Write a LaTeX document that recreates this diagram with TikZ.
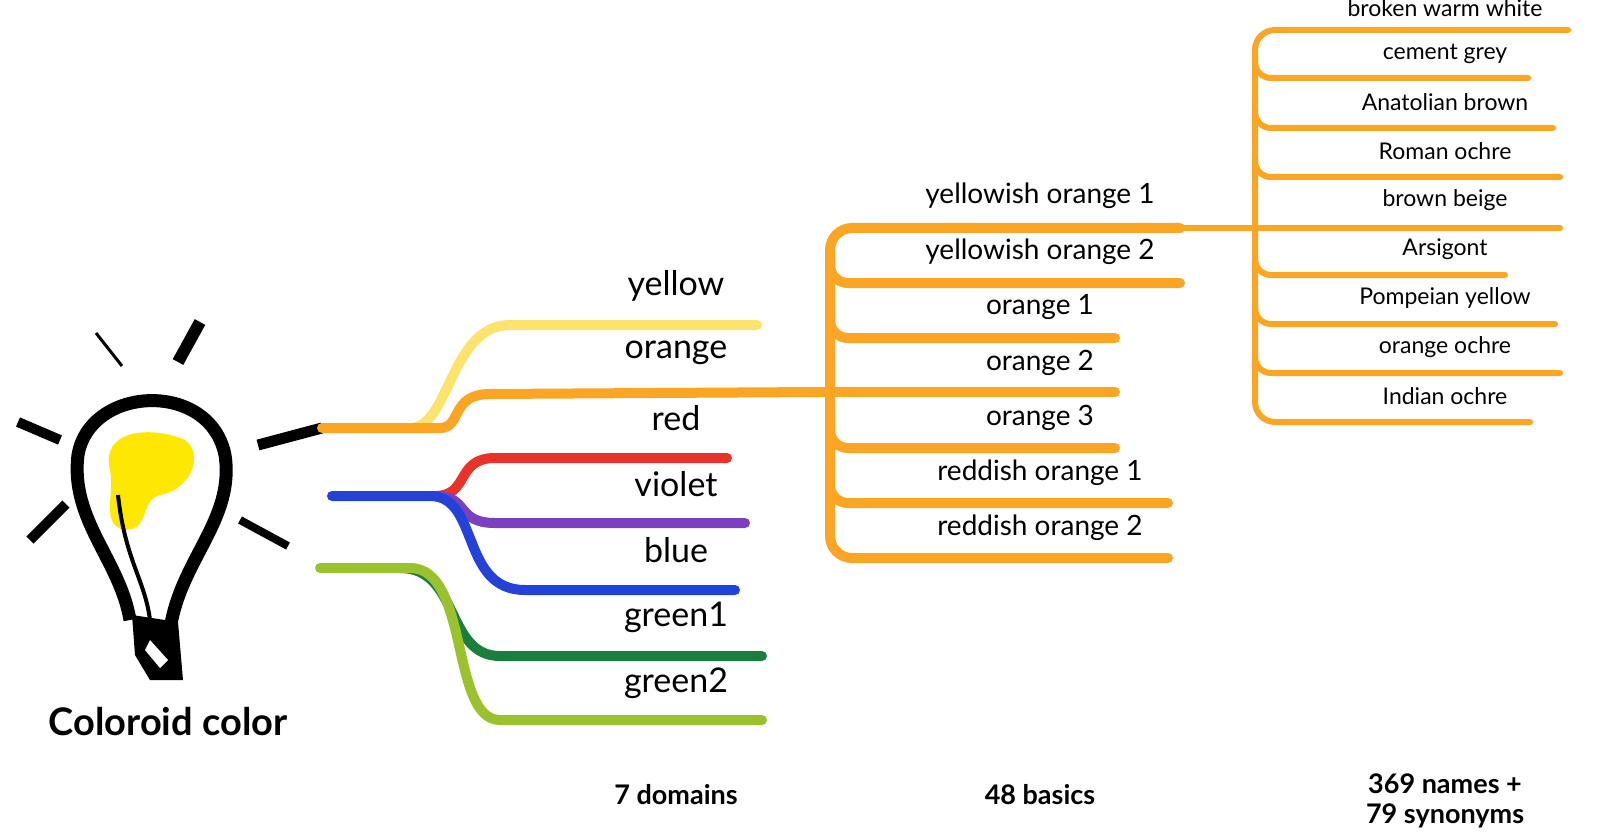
\documentclass[tikz,border=0pt]{standalone}
\usepackage{fontspec}
\setmainfont{Lato}
\begin{document}
\begin{tikzpicture}[x=1pt,y=-1pt,
  br/.style={line width=10pt,line cap=round},
  brs/.style={line width=6pt,line cap=round},
  lab/.style={font=\fontsize{34}{36}\selectfont},
  labm/.style={font=\fontsize{28}{30}\selectfont},
  labs/.style={font=\fontsize{23}{25}\selectfont},
  bot/.style={font=\bfseries\fontsize{27}{30}\selectfont,align=center}]
\definecolor{co}{RGB}{250,165,35}
\definecolor{cy}{RGB}{251,227,110}
\definecolor{cr}{RGB}{232,51,42}
\definecolor{cv}{RGB}{123,63,191}
\definecolor{cb}{RGB}{36,66,216}
\definecolor{cg}{RGB}{26,127,60}
\definecolor{cl}{RGB}{154,193,46}
\useasboundingbox (0,0) rectangle (1598,837);
% bulb
\fill[yellow!90!orange] (110,470) .. controls (100,430) and (150,425) .. (185,440) .. controls (205,455) and (190,490) .. (160,495) .. controls (140,500) and (150,530) .. (125,530) .. controls (100,525) and (115,495) .. (110,470) -- cycle;
\draw[line width=13pt,line join=round] (130,620) .. controls (120,560) and (70,520) .. (78,455) .. controls (90,385) and (210,380) .. (225,455) .. controls (235,520) and (180,560) .. (170,630);
\draw[line width=4pt] (118,495) .. controls (125,560) and (145,580) .. (150,620);
\fill (132,615) -- (178,622) -- (183,680) -- (150,680) -- (135,655) -- cycle;
\fill[white] (150,640) -- (168,660) -- (160,668) -- (145,650) -- cycle;
\draw[line width=3pt] (96,333) -- (122,366);
\draw[line width=12pt] (178,362) -- (200,322);
\draw[line width=10pt] (18,422) -- (60,440);
\draw[line width=10pt] (30,540) -- (66,504);
\draw[line width=11pt] (258,445) -- (322,428);
\draw[line width=8pt] (240,520) -- (288,546);
\node[font=\bfseries\fontsize{38}{40}\selectfont] (title) at (168,722) {Coloroid color};
% domains
\coordinate (root) at (322,428);
\coordinate (hub) at (820,392);
\draw[br,cy] (410,428) .. controls (450,428) and (450,325) .. (510,325) -- (757,325);
\draw[br,co] (root) -- (440,428) .. controls (462,428) and (450,394) .. (490,394) -- (hub);
\draw[br,cr] (435,496) .. controls (470,496) and (455,458) .. (495,458) -- (727,458);
\draw[br,cv] (435,496) .. controls (470,496) and (455,523) .. (495,523) -- (745,523);
\draw[br,cb] (332,496) -- (430,496) .. controls (480,496) and (460,590) .. (525,590) -- (735,590);
\draw[br,cg] (400,568) .. controls (460,568) and (445,656) .. (500,656) -- (762,656);
\draw[br,cl] (320,568) -- (410,568) .. controls (470,568) and (450,720) .. (500,720) -- (762,720);
\foreach \t/\y in {yellow/286,orange/353,red/418,violet/484,blue/550,green1/617,green2/683}
  \node[lab] (d\t) at (676,\y) {\t};
% basics
\draw[br,co,rounded corners=22pt] (1180,228) -- (830,228) -- (830,558) -- (1168,558);
\draw[br,co] (hub) -- (1115,392);
\foreach \y/\x in {283/1180,338/1115,448/1115,503/1168}
  \draw[br,co,rounded corners=18pt] (830,\y-24) -- (830,\y) -- (\x,\y);
\foreach \t/\y [count=\i] in {yellowish orange 1/196,yellowish orange 2/252,orange 1/307,orange 2/363,orange 3/418,reddish orange 1/473,reddish orange 2/528}
  \node[labm] (b\i) at (1040,\y) {\t};
% names
\coordinate (hub2) at (1240,228);
\draw[brs,co] (1180,228) -- (1560,228);
\draw[brs,co,rounded corners=20pt] (1568,30) -- (1255,30) -- (1255,422) -- (1530,422);
\foreach \y/\x in {78/1528,128/1553,177/1560,275/1505,324/1555,373/1560}
  \draw[brs,co,rounded corners=16pt] (1255,\y-20) -- (1255,\y) -- (\x,\y);
\foreach \t/\y [count=\i] in {broken warm white/8,cement grey/54,Anatolian brown/102,Roman ochre/151,brown beige/200,Arsigont/249,Pompeian yellow/298,orange ochre/347,Indian ochre/396}
  \node[labs] (n\i) at (1445,\y) {\t};
\node[bot] (s1) at (676,795) {7 domains};
\node[bot] (s2) at (1040,795) {48 basics};
\node[bot,anchor=north] (s3) at (1445,770) {369 names +\\79 synonyms};
\end{tikzpicture}
\end{document}
